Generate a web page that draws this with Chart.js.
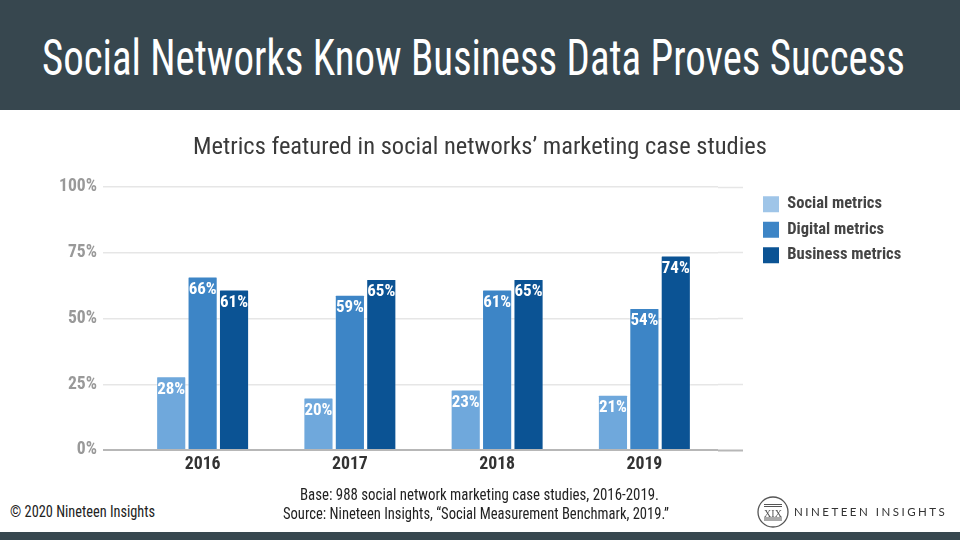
<!DOCTYPE html>
<html>
<head>
<meta charset="utf-8">
<script src="https://cdn.jsdelivr.net/npm/chart.js@4.4.0/dist/chart.umd.min.js"></script>
<style>
  body { margin: 0; width: 960px; height: 540px; overflow: hidden; background: #fff; position: relative; }
  .header { position: absolute; left: 0; top: 0; width: 960px; height: 110px; background: #37474f; }
  .band { position: absolute; left: 0; top: 532px; width: 960px; height: 8px; background: #37474f; }
  .fit { position: absolute; white-space: nowrap; line-height: 1; transform-origin: left top; }
  #title { color: #fff; font-size: 50px; left: 42px; top: 33px; }
  #copy { color: #222; font-size: 17px; left: 10px; top: 503px; }
  #base { color: #222; font-size: 16px; left: 300px; top: 487px; }
  #source { color: #222; font-size: 16px; left: 283px; top: 506px; }
  #brand { position: absolute; left: 794px; top: 506px; font-family: Lato, 'Open Sans', sans-serif;
           font-size: 11.5px; letter-spacing: 2.5px; color: #333; white-space: nowrap; line-height: 1; }
  #logo { position: absolute; left: 756px; top: 495px; }
  #chart-box { position: absolute; left: 0; top: 122px; width: 960px; height: 365px; }
</style>
</head>
<body>
<div class="header"></div>
<div id="title" class="fit">Social Networks Know Business Data Proves Success</div>
<div id="chart-box"><canvas id="chart"></canvas></div>
<div id="copy" class="fit">© 2020 Nineteen Insights</div>
<div id="base" class="fit">Base: 988 social network marketing case studies, 2016-2019.</div>
<div id="source" class="fit">Source: Nineteen Insights, “Social Measurement Benchmark, 2019.”</div>
<svg id="logo" width="34" height="34" viewBox="0 0 34 34">
  <circle cx="17" cy="17" r="15" fill="none" stroke="#555" stroke-width="1.3"/>
  <line x1="8" y1="9.5" x2="26" y2="9.5" stroke="#555" stroke-width="1"/>
  <line x1="8" y1="11.5" x2="26" y2="11.5" stroke="#555" stroke-width="1"/>
  <line x1="8" y1="23" x2="26" y2="23" stroke="#555" stroke-width="1"/>
  <line x1="8" y1="25" x2="26" y2="25" stroke="#555" stroke-width="1"/>
  <text x="17" y="21.5" text-anchor="middle" font-family="'Liberation Serif', serif" font-size="10" fill="#555">XIX</text>
</svg>
<div id="brand">NINETEEN INSIGHTS</div>
<div class="band"></div>
<script>
var years = ['2016', '2017', '2018', '2019'];
var seriesNames = ['Social metrics', 'Digital metrics', 'Business metrics'];
var socialMetrics = [28, 20, 23, 21];
var digitalMetrics = [66, 59, 61, 54];
var businessMetrics = [61, 65, 65, 74];
var yTicks = [0, 25, 50, 75, 100];

var barColors = ['#6fa8dc', '#3d85c6', '#0b5394'];
var legendColors = ['#9fc5e8', '#3d85c6', '#0b5394'];

var measure = document.createElement('canvas').getContext('2d');

// first condensed face that is really installed
function pickFont(list) {
    var probe = 'abcdefghijklmnop QRSTUVWXYZ 0123456789';
    for (var i = 0; i < list.length; i++) {
        measure.font = '40px monospace';
        var a = measure.measureText(probe).width;
        measure.font = "40px '" + list[i] + "', monospace";
        var b = measure.measureText(probe).width;
        measure.font = '40px serif';
        var c = measure.measureText(probe).width;
        measure.font = "40px '" + list[i] + "', serif";
        var d = measure.measureText(probe).width;
        if (a !== b || c !== d) return list[i];
    }
    return 'DejaVu Sans Condensed';
}
var face = pickFont(['Noto Sans ExtraCondensed', 'Roboto Condensed', 'Noto Sans Condensed',
                     'Liberation Sans Narrow', 'Open Sans Condensed', 'DejaVu Sans Condensed']);
var narrow = "'" + face + "', 'DejaVu Sans Condensed', sans-serif";
document.body.style.fontFamily = narrow;

function sizeFor(text, weight, target) {
    measure.font = weight + ' 20px ' + narrow;
    return 20 * target / measure.measureText(text).width;
}

// squeeze html text to the width it has in the picture
function fitWidth(id, w) {
    var el = document.getElementById(id);
    var s = w / el.getBoundingClientRect().width;
    el.style.transform = 'scaleX(' + s + ')';
}
fitWidth('title', 863);
fitWidth('copy', 145);
fitWidth('base', 359);
fitWidth('source', 386);

var legendSize = Math.min(17, sizeFor('Business metrics', 'bold', 114));
var yTickSize = Math.min(18, sizeFor('100%', 'bold', 38));
var xTickSize = Math.min(20, sizeFor('2016', 'bold', 36));
var subtitle = 'Metrics featured in social networks’ marketing case studies';
var subSize = sizeFor(subtitle, 'normal', 574);

measure.font = 'bold ' + legendSize + 'px ' + narrow;
var legendText = Math.max.apply(null, seriesNames.map(function (n) { return measure.measureText(n).width; }));
var legendWidth = 9 + 16 + legendSize / 2 + legendText + 10;
var sidePad = Math.max(0, 960 - 754 - legendWidth);
// x axis height is 2 * padding + line height
var bottomPad = 365 - 328 - 8 - xTickSize * 1.2;

function gridColor(c) { return c.tick && c.tick.value === 0 ? '#b7b7b7' : '#e6e6e6'; }
function gridWidth(c) { return c.tick && c.tick.value === 0 ? 2 : 1.5; }

var barLabels = {
    id: 'barLabels',
    afterDatasetsDraw: function (chart) {
        var ctx = chart.ctx;
        ctx.save();
        ctx.fillStyle = '#fff';
        ctx.font = 'bold 17px ' + narrow;
        ctx.textAlign = 'center';
        ctx.textBaseline = 'middle';
        chart.data.datasets.forEach(function (ds, i) {
            chart.getDatasetMeta(i).data.forEach(function (bar, j) {
                var txt = ds.data[j] + '%';
                var w = ctx.measureText(txt).width;
                var sx = Math.min(1, 28 / w);
                ctx.save();
                ctx.translate(bar.x, bar.y + 13);
                ctx.scale(sx, 1);
                ctx.fillText(txt, 0, 0);
                ctx.restore();
            });
        });
        ctx.restore();
    }
};

var datasets = [socialMetrics, digitalMetrics, businessMetrics].map(function (vals, i) {
    return {
        label: seriesNames[i],
        data: vals,
        backgroundColor: barColors[i],
        borderColor: 'rgba(255,255,255,0.3)',
        borderWidth: 1,
        borderSkipped: 'bottom',
        borderRadius: 1.5,
        categoryPercentage: 0.64,
        barPercentage: 0.96
    };
});

var chart = new Chart(document.getElementById('chart'), {
    type: 'bar',
    data: { labels: years, datasets: datasets },
    plugins: [barLabels],
    options: {
        responsive: true,
        maintainAspectRatio: false,
        animation: false,
        layout: { padding: { left: sidePad, right: sidePad, top: 0, bottom: bottomPad } },
        plugins: {
            title: {
                display: true,
                text: subtitle,
                color: '#3a3a3a',
                font: { family: narrow, size: subSize, weight: 'normal', lineHeight: 1.2 },
                padding: { top: 26 - subSize * 0.6, bottom: 65 - 26 - subSize * 0.6 }
            },
            legend: {
                position: 'right',
                align: 'start',
                fullSize: false,
                maxWidth: 400,
                labels: {
                    boxWidth: 16,
                    boxHeight: 16,
                    padding: 9,
                    color: '#444',
                    font: { family: narrow, size: legendSize, weight: 'bold' },
                    generateLabels: function (c) {
                        return c.data.datasets.map(function (ds, i) {
                            return { text: ds.label, fillStyle: legendColors[i], strokeStyle: legendColors[i],
                                     lineWidth: 0, datasetIndex: i, fontColor: '#444' };
                        });
                    }
                }
            },
            tooltip: { enabled: false }
        },
        scales: {
            x: {
                grid: { display: false, drawTicks: false },
                border: { display: false },
                ticks: { color: '#333', padding: 4, font: { family: narrow, size: xTickSize, weight: 'bold' } }
            },
            y: {
                min: yTicks[0],
                max: yTicks[yTicks.length - 1],
                afterBuildTicks: function (s) { s.ticks = yTicks.map(function (v) { return { value: v }; }); },
                afterFit: function (s) { s.width = 129 - sidePad; },
                grid: { color: gridColor, lineWidth: gridWidth, tickLength: 26, tickColor: gridColor, tickWidth: gridWidth },
                border: { display: false },
                ticks: {
                    padding: 6,
                    color: '#999',
                    font: { family: narrow, size: yTickSize, weight: 'bold' },
                    callback: function (v) { return v + '%'; }
                }
            },
            y2: {
                display: true,
                position: 'right',
                min: yTicks[0],
                max: yTicks[yTicks.length - 1],
                afterBuildTicks: function (s) { s.ticks = yTicks.map(function (v) { return { value: v }; }); },
                afterFit: function (s) { s.width = 36; },
                grid: { drawOnChartArea: false, tickLength: 25, tickColor: gridColor, tickWidth: gridWidth },
                border: { display: false },
                ticks: { padding: 0, callback: function () { return ''; } }
            }
        }
    }
});
</script>
</body>
</html>
